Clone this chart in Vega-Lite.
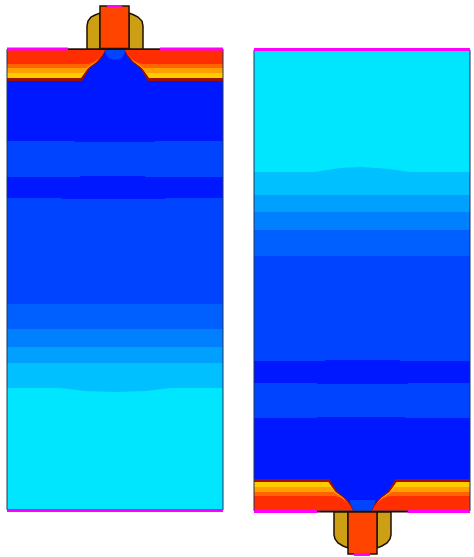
{"$schema":"https://vega.github.io/schema/vega-lite/v6.json","width":474,"height":557,"padding":0,"autosize":{"type":"fit","contains":"padding"},"background":"white","view":{"stroke":null},
"datasets":{
"bands":[
{"x":7,"x2":223,"y":81,"y2":141,"level":"b1"},{"x":7,"x2":223,"y":141,"y2":177,"level":"b2"},{"x":7,"x2":223,"y":177,"y2":198,"level":"b1"},{"x":7,"x2":223,"y":198,"y2":304,"level":"b2"},{"x":7,"x2":223,"y":304,"y2":329,"level":"b3"},{"x":7,"x2":223,"y":329,"y2":347,"level":"b4"},{"x":7,"x2":223,"y":347,"y2":363,"level":"b5"},{"x":7,"x2":223,"y":363,"y2":388,"level":"b6"},{"x":7,"x2":223,"y":388,"y2":509,"level":"b7"},
{"x":75,"x2":155,"y":141,"y2":142,"level":"b1"},{"x":80,"x2":145,"y":176,"y2":177,"level":"b1"},{"x":62,"x2":165,"y":198,"y2":199,"level":"b1"},
{"x":7,"x2":223,"y":49,"y2":81,"level":"b1"},{"x":254,"x2":470,"y":480,"y2":511,"level":"b1"},
{"x":254,"x2":470,"y":50,"y2":172,"level":"b7"},{"x":254,"x2":470,"y":172,"y2":195,"level":"b6"},{"x":254,"x2":470,"y":195,"y2":212,"level":"b5"},{"x":254,"x2":470,"y":212,"y2":230,"level":"b4"},{"x":254,"x2":470,"y":230,"y2":256,"level":"b3"},{"x":254,"x2":470,"y":256,"y2":361,"level":"b2"},{"x":254,"x2":470,"y":361,"y2":383,"level":"b1"},{"x":254,"x2":470,"y":383,"y2":418,"level":"b2"},{"x":254,"x2":470,"y":418,"y2":480,"level":"b1"},
{"x":325,"x2":400,"y":360,"y2":361,"level":"b1"},{"x":317,"x2":408,"y":383,"y2":384,"level":"b1"},{"x":317,"x2":405,"y":417,"y2":418,"level":"b1"}
],
"contours":[
{"shape":"lensL","x":60,"y":388,"y2":388,"level":"b6"},{"shape":"lensL","x":85,"y":388,"y2":391,"level":"b6"},{"shape":"lensL","x":115,"y":388,"y2":392,"level":"b6"},{"shape":"lensL","x":145,"y":388,"y2":391,"level":"b6"},{"shape":"lensL","x":170,"y":388,"y2":388,"level":"b6"},
{"shape":"lensR","x":315,"y":172,"y2":172,"level":"b6"},{"shape":"lensR","x":340,"y":168,"y2":172,"level":"b6"},{"shape":"lensR","x":362,"y":167,"y2":172,"level":"b6"},{"shape":"lensR","x":390,"y":169,"y2":172,"level":"b6"},{"shape":"lensR","x":410,"y":172,"y2":172,"level":"b6"},
{"shape":"pocketL","x":105,"y":49,"y2":52,"level":"b2"},{"shape":"pocketL","x":108,"y":49,"y2":58,"level":"b2"},{"shape":"pocketL","x":115,"y":49,"y2":60,"level":"b2"},{"shape":"pocketL","x":122,"y":49,"y2":58,"level":"b2"},{"shape":"pocketL","x":125,"y":49,"y2":52,"level":"b2"},
{"shape":"pocketR","x":350,"y":500,"y2":511,"level":"b2"},{"shape":"pocketR","x":375,"y":500,"y2":511,"level":"b2"},
{"shape":"A1","x":7,"y":49,"y2":81,"level":"dark"},{"shape":"A1","x":82,"y":49,"y2":81,"level":"dark"},{"shape":"A1","x":90,"y":49,"y2":68,"level":"dark"},{"shape":"A1","x":98,"y":49,"y2":62,"level":"dark"},{"shape":"A1","x":103,"y":49,"y2":56,"level":"dark"},{"shape":"A1","x":106,"y":49,"y2":49,"level":"dark"},
{"shape":"B1","x":7,"y":49,"y2":78,"level":"yellow"},{"shape":"B1","x":81,"y":49,"y2":78,"level":"yellow"},{"shape":"B1","x":88,"y":49,"y2":68,"level":"yellow"},{"shape":"B1","x":96,"y":49,"y2":62,"level":"yellow"},{"shape":"B1","x":101,"y":49,"y2":56,"level":"yellow"},{"shape":"B1","x":105,"y":49,"y2":49,"level":"yellow"},
{"shape":"C1","x":7,"y":49,"y2":73,"level":"orange"},{"shape":"C1","x":83,"y":49,"y2":73,"level":"orange"},{"shape":"C1","x":90,"y":49,"y2":66,"level":"orange"},{"shape":"C1","x":97,"y":49,"y2":61,"level":"orange"},{"shape":"C1","x":101,"y":49,"y2":55,"level":"orange"},{"shape":"C1","x":105,"y":49,"y2":49,"level":"orange"},
{"shape":"D1","x":7,"y":49,"y2":68,"level":"deep"},{"shape":"D1","x":86,"y":49,"y2":68,"level":"deep"},{"shape":"D1","x":92,"y":49,"y2":64,"level":"deep"},{"shape":"D1","x":98,"y":49,"y2":60,"level":"deep"},{"shape":"D1","x":102,"y":49,"y2":55,"level":"deep"},{"shape":"D1","x":105,"y":49,"y2":49,"level":"deep"},
{"shape":"E1","x":7,"y":49,"y2":64,"level":"red"},{"shape":"E1","x":88,"y":49,"y2":64,"level":"red"},{"shape":"E1","x":94,"y":49,"y2":62,"level":"red"},{"shape":"E1","x":99,"y":49,"y2":58,"level":"red"},{"shape":"E1","x":103,"y":49,"y2":54,"level":"red"},{"shape":"E1","x":105,"y":49,"y2":49,"level":"red"},
{"shape":"A2","x":124,"y":49,"y2":49,"level":"dark"},{"shape":"A2","x":127,"y":49,"y2":56,"level":"dark"},{"shape":"A2","x":132,"y":49,"y2":62,"level":"dark"},{"shape":"A2","x":140,"y":49,"y2":68,"level":"dark"},{"shape":"A2","x":148,"y":49,"y2":81,"level":"dark"},{"shape":"A2","x":223,"y":49,"y2":81,"level":"dark"},
{"shape":"B2","x":125,"y":49,"y2":49,"level":"yellow"},{"shape":"B2","x":129,"y":49,"y2":56,"level":"yellow"},{"shape":"B2","x":134,"y":49,"y2":62,"level":"yellow"},{"shape":"B2","x":142,"y":49,"y2":68,"level":"yellow"},{"shape":"B2","x":149,"y":49,"y2":78,"level":"yellow"},{"shape":"B2","x":223,"y":49,"y2":78,"level":"yellow"},
{"shape":"C2","x":125,"y":49,"y2":49,"level":"orange"},{"shape":"C2","x":129,"y":49,"y2":55,"level":"orange"},{"shape":"C2","x":133,"y":49,"y2":61,"level":"orange"},{"shape":"C2","x":140,"y":49,"y2":66,"level":"orange"},{"shape":"C2","x":147,"y":49,"y2":73,"level":"orange"},{"shape":"C2","x":223,"y":49,"y2":73,"level":"orange"},
{"shape":"D2","x":125,"y":49,"y2":49,"level":"deep"},{"shape":"D2","x":128,"y":49,"y2":55,"level":"deep"},{"shape":"D2","x":132,"y":49,"y2":60,"level":"deep"},{"shape":"D2","x":138,"y":49,"y2":64,"level":"deep"},{"shape":"D2","x":144,"y":49,"y2":68,"level":"deep"},{"shape":"D2","x":223,"y":49,"y2":68,"level":"deep"},
{"shape":"E2","x":125,"y":49,"y2":49,"level":"red"},{"shape":"E2","x":127,"y":49,"y2":54,"level":"red"},{"shape":"E2","x":131,"y":49,"y2":58,"level":"red"},{"shape":"E2","x":136,"y":49,"y2":62,"level":"red"},{"shape":"E2","x":142,"y":49,"y2":64,"level":"red"},{"shape":"E2","x":223,"y":49,"y2":64,"level":"red"},
{"shape":"A3","x":254,"y":511,"y2":479,"level":"dark"},{"shape":"A3","x":329.5,"y":511,"y2":479,"level":"dark"},{"shape":"A3","x":337.5,"y":511,"y2":492,"level":"dark"},{"shape":"A3","x":345.5,"y":511,"y2":498,"level":"dark"},{"shape":"A3","x":350.5,"y":511,"y2":504,"level":"dark"},{"shape":"A3","x":353.5,"y":511,"y2":511,"level":"dark"},
{"shape":"B3","x":254,"y":511,"y2":482,"level":"yellow"},{"shape":"B3","x":328.5,"y":511,"y2":482,"level":"yellow"},{"shape":"B3","x":335.5,"y":511,"y2":492,"level":"yellow"},{"shape":"B3","x":343.5,"y":511,"y2":498,"level":"yellow"},{"shape":"B3","x":348.5,"y":511,"y2":504,"level":"yellow"},{"shape":"B3","x":352.5,"y":511,"y2":511,"level":"yellow"},
{"shape":"C3","x":254,"y":511,"y2":487,"level":"orange"},{"shape":"C3","x":330.5,"y":511,"y2":487,"level":"orange"},{"shape":"C3","x":337.5,"y":511,"y2":494,"level":"orange"},{"shape":"C3","x":344.5,"y":511,"y2":499,"level":"orange"},{"shape":"C3","x":348.5,"y":511,"y2":505,"level":"orange"},{"shape":"C3","x":352.5,"y":511,"y2":511,"level":"orange"},
{"shape":"D3","x":254,"y":511,"y2":492,"level":"deep"},{"shape":"D3","x":333.5,"y":511,"y2":492,"level":"deep"},{"shape":"D3","x":339.5,"y":511,"y2":496,"level":"deep"},{"shape":"D3","x":345.5,"y":511,"y2":500,"level":"deep"},{"shape":"D3","x":349.5,"y":511,"y2":505,"level":"deep"},{"shape":"D3","x":352.5,"y":511,"y2":511,"level":"deep"},
{"shape":"E3","x":254,"y":511,"y2":496,"level":"red"},{"shape":"E3","x":335.5,"y":511,"y2":496,"level":"red"},{"shape":"E3","x":341.5,"y":511,"y2":498,"level":"red"},{"shape":"E3","x":346.5,"y":511,"y2":502,"level":"red"},{"shape":"E3","x":350.5,"y":511,"y2":506,"level":"red"},{"shape":"E3","x":352.5,"y":511,"y2":511,"level":"red"},
{"shape":"A4","x":371.5,"y":511,"y2":511,"level":"dark"},{"shape":"A4","x":374.5,"y":511,"y2":504,"level":"dark"},{"shape":"A4","x":379.5,"y":511,"y2":498,"level":"dark"},{"shape":"A4","x":387.5,"y":511,"y2":492,"level":"dark"},{"shape":"A4","x":395.5,"y":511,"y2":479,"level":"dark"},{"shape":"A4","x":470,"y":511,"y2":479,"level":"dark"},
{"shape":"B4","x":372.5,"y":511,"y2":511,"level":"yellow"},{"shape":"B4","x":376.5,"y":511,"y2":504,"level":"yellow"},{"shape":"B4","x":381.5,"y":511,"y2":498,"level":"yellow"},{"shape":"B4","x":389.5,"y":511,"y2":492,"level":"yellow"},{"shape":"B4","x":396.5,"y":511,"y2":482,"level":"yellow"},{"shape":"B4","x":470,"y":511,"y2":482,"level":"yellow"},
{"shape":"C4","x":372.5,"y":511,"y2":511,"level":"orange"},{"shape":"C4","x":376.5,"y":511,"y2":505,"level":"orange"},{"shape":"C4","x":380.5,"y":511,"y2":499,"level":"orange"},{"shape":"C4","x":387.5,"y":511,"y2":494,"level":"orange"},{"shape":"C4","x":394.5,"y":511,"y2":487,"level":"orange"},{"shape":"C4","x":470,"y":511,"y2":487,"level":"orange"},
{"shape":"D4","x":372.5,"y":511,"y2":511,"level":"deep"},{"shape":"D4","x":375.5,"y":511,"y2":505,"level":"deep"},{"shape":"D4","x":379.5,"y":511,"y2":500,"level":"deep"},{"shape":"D4","x":385.5,"y":511,"y2":496,"level":"deep"},{"shape":"D4","x":391.5,"y":511,"y2":492,"level":"deep"},{"shape":"D4","x":470,"y":511,"y2":492,"level":"deep"},
{"shape":"E4","x":372.5,"y":511,"y2":511,"level":"red"},{"shape":"E4","x":374.5,"y":511,"y2":506,"level":"red"},{"shape":"E4","x":378.5,"y":511,"y2":502,"level":"red"},{"shape":"E4","x":383.5,"y":511,"y2":498,"level":"red"},{"shape":"E4","x":389.5,"y":511,"y2":496,"level":"red"},{"shape":"E4","x":470,"y":511,"y2":496,"level":"red"}
],
"panels":[{"x":7,"x2":223,"y":49,"y2":510},{"x":254,"x2":470,"y":50,"y2":511}],
"surface":[
{"x":7,"x2":68,"y":47.5,"y2":50.5,"level":"magenta"},{"x":160,"x2":223,"y":47.5,"y2":50.5,"level":"magenta"},{"x":68,"x2":160,"y":48.5,"y2":50,"level":"black"},{"x":7,"x2":223,"y":509,"y2":512,"level":"magenta"},
{"x":254,"x2":470,"y":48,"y2":51,"level":"magenta"},{"x":254,"x2":317,"y":510,"y2":513,"level":"magenta"},{"x":408,"x2":470,"y":510,"y2":513,"level":"magenta"},{"x":317,"x2":408,"y":511,"y2":512.5,"level":"black"}
],
"spacers":[
{"shape":"s1","x":87,"y":26,"y2":49},{"shape":"s1","x":88,"y":21,"y2":49},{"shape":"s1","x":91,"y":17,"y2":49},{"shape":"s1","x":95,"y":15,"y2":49},{"shape":"s1","x":100,"y":13,"y2":49},
{"shape":"s2","x":129,"y":13,"y2":49},{"shape":"s2","x":134,"y":15,"y2":49},{"shape":"s2","x":138,"y":17,"y2":49},{"shape":"s2","x":142,"y":21,"y2":49},{"shape":"s2","x":143,"y":26,"y2":49},
{"shape":"s3","x":334,"y":512,"y2":535},{"shape":"s3","x":335,"y":512,"y2":539},{"shape":"s3","x":338,"y":512,"y2":543},{"shape":"s3","x":343,"y":512,"y2":546},{"shape":"s3","x":348,"y":512,"y2":548},
{"shape":"s4","x":377,"y":512,"y2":548},{"shape":"s4","x":382,"y":512,"y2":546},{"shape":"s4","x":387,"y":512,"y2":543},{"shape":"s4","x":390,"y":512,"y2":539},{"shape":"s4","x":391,"y":512,"y2":535}
],
"gates":[{"x":100,"x2":129,"y":6,"y2":48.5},{"x":348,"x2":377,"y":512,"y2":554}],
"caps":[{"x":107,"x2":122,"y":5,"y2":7.5,"level":"magenta"},{"x":354,"x2":370,"y":553,"y2":556,"level":"magenta"}]
},
"encoding":{
"x":{"field":"x","type":"quantitative","scale":{"domain":[0,474],"nice":false,"zero":false},"axis":null},
"y":{"field":"y","type":"quantitative","stack":null,"scale":{"domain":[557,0],"nice":false,"zero":false},"axis":null}
},
"layer":[
{"data":{"name":"bands"},"mark":{"type":"rect"},"encoding":{"x2":{"field":"x2"},"y2":{"field":"y2"},"color":{"field":"level","type":"nominal","legend":null,"scale":{"domain":["b1","b2","b3","b4","b5","b6","b7","red","deep","orange","yellow","dark","magenta","black","white"],"range":["#0018ff","#0044ff","#0060ff","#0080ff","#00a0ff","#00c0ff","#00e6ff","#ff2e00","#ff6400","#ffa000","#ffcc00","#a01000","#ff00ff","#201000","#ffffff"]}}}},
{"data":{"name":"contours"},"mark":{"type":"area","interpolate":"linear"},"encoding":{"y2":{"field":"y2"},"detail":{"field":"shape"},"color":{"field":"level","type":"nominal","legend":null}}},
{"data":{"name":"panels"},"mark":{"type":"rect","fillOpacity":0,"stroke":"#23325a","strokeWidth":1},"encoding":{"x2":{"field":"x2"},"y2":{"field":"y2"}}},
{"data":{"name":"surface"},"mark":{"type":"rect"},"encoding":{"x2":{"field":"x2"},"y2":{"field":"y2"},"color":{"field":"level","type":"nominal","legend":null}}},
{"data":{"name":"spacers"},"mark":{"type":"area","interpolate":"linear","fill":"#cc9f14","stroke":"#201000","strokeWidth":1.5},"encoding":{"y2":{"field":"y2"},"detail":{"field":"shape"}}},
{"data":{"name":"gates"},"mark":{"type":"rect","fill":"#ff4400","stroke":"#201000","strokeWidth":1.5},"encoding":{"x2":{"field":"x2"},"y2":{"field":"y2"}}},
{"data":{"name":"caps"},"mark":{"type":"rect"},"encoding":{"x2":{"field":"x2"},"y2":{"field":"y2"},"color":{"field":"level","type":"nominal","legend":null}}}
]}
